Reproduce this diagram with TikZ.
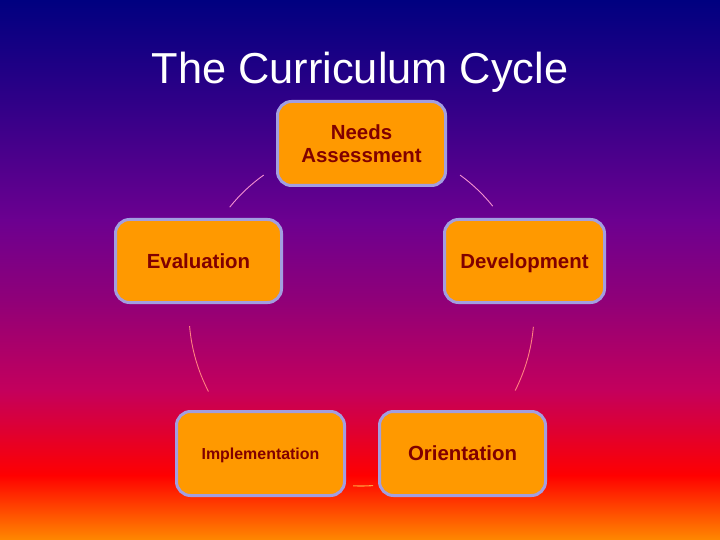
\documentclass[tikz,border=0pt]{standalone}
\usepackage{fontspec}
\setmainfont{Liberation Sans}
\definecolor{g0}{HTML}{000080}
\definecolor{g1}{HTML}{340088}
\definecolor{g2}{HTML}{6C0090}
\definecolor{g3}{HTML}{900078}
\definecolor{g4}{HTML}{C4005C}
\definecolor{g5}{HTML}{E2002C}
\definecolor{g6}{HTML}{FF0000}
\definecolor{g7}{HTML}{FF8800}
\definecolor{boxfill}{HTML}{FF9900}
\definecolor{boxline}{HTML}{A29EE0}
\definecolor{boxtext}{HTML}{800000}
\definecolor{connpink}{HTML}{F590D0}
\definecolor{connmid}{HTML}{FF7F80}
\definecolor{connbot}{HTML}{FFA040}
\tikzset{
  cyclebox/.style={draw=boxline, line width=3bp, fill=boxfill, rounded corners=14bp,
    text=boxtext, font=\bfseries\fontsize{20.5}{22.5}\selectfont, align=center, inner sep=0pt},
  oneline/.style={text depth=0pt},
  conn/.style={line width=0.9bp},
}
\begin{document}
\begin{tikzpicture}[x=1bp,y=-1bp]
\useasboundingbox (0,0) rectangle (720,540);
% background gradient
\shade[top color=g0,bottom color=g1] (0,0) rectangle (720,111);
\shade[top color=g1,bottom color=g2] (0,110) rectangle (720,221);
\shade[top color=g2,bottom color=g3] (0,220) rectangle (720,301);
\shade[top color=g3,bottom color=g4] (0,300) rectangle (720,391);
\shade[top color=g4,bottom color=g5] (0,390) rectangle (720,436);
\shade[top color=g5,bottom color=g6] (0,435) rectangle (720,476);
\shade[top color=g6,bottom color=g7] (0,475) rectangle (720,540);
% title
\node[anchor=base, text=white, font=\fontsize{43.5}{50}\selectfont, inner sep=0pt] (title) at (360,84) {The Curriculum Cycle};
% boxes
\node[cyclebox, minimum width=168bp, minimum height=84bp] (needs) at (361.5,143.5) {Needs\\Assessment};
\node[cyclebox, oneline, minimum width=166bp, minimum height=83bp] (eval) at (198.5,261) {Evaluation};
\node[cyclebox, oneline, minimum width=160bp, minimum height=83bp] (dev) at (524.5,261) {Development};
\node[cyclebox, oneline, minimum width=168bp, minimum height=84bp, font=\bfseries\fontsize{16}{19}\selectfont] (impl) at (260.5,453.5) {Implementation};
\node[cyclebox, oneline, minimum width=166bp, minimum height=84bp] (orient) at (462.5,453.5) {Orientation};
% connectors: arcs of the cycle circle
\coordinate (ctr) at (361,312);
\path (ctr) ++(-125.4:168) coordinate (a1);
\path (ctr) ++(-54.1:169) coordinate (a2);
\path (ctr) ++(4.9:173) coordinate (a3);
\path (ctr) ++(175.3:172) coordinate (a4);
\path (ctr) ++(92.6:174) coordinate (a5);
\draw[conn, connpink] (a1) arc[start angle=-125.4, end angle=-141.4, radius=168];
\draw[conn, connpink] (a2) arc[start angle=-54.1, end angle=-38.8, radius=169];
\draw[conn, connmid] (a3) arc[start angle=4.9, end angle=27, radius=173];
\draw[conn, connmid] (a4) arc[start angle=175.3, end angle=152.5, radius=172];
\draw[conn, connbot, line width=1.1bp] (a5) arc[start angle=92.6, end angle=86, radius=174];
\end{tikzpicture}
\end{document}
